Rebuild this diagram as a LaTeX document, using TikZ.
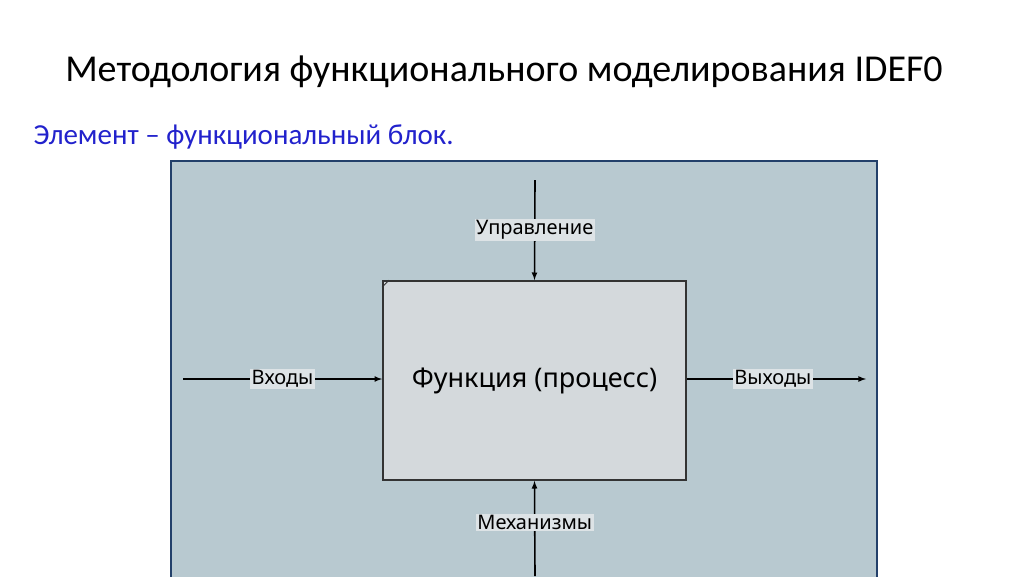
\documentclass[tikz,border=0pt]{standalone}
\usepackage{fontspec}
\setmainfont{Carlito}
\newfontfamily\diagfont{Noto Sans}
\usetikzlibrary{arrows}
\definecolor{panelfill}{HTML}{B8C9D0}
\definecolor{panelline}{HTML}{23406A}
\definecolor{boxfill}{HTML}{D4D9DC}
\definecolor{labelfill}{HTML}{DDE3E6}
\definecolor{subblue}{HTML}{2222CC}

\begin{document}
\begin{tikzpicture}[x=1pt,y=-1pt,>=latex]
  \tikzset{flowlabel/.style={fill=labelfill,inner sep=1.5pt,font=\diagfont\fontsize{20}{24}\selectfont}}
  \useasboundingbox (0,0) rectangle (1024,576);
  \node[font=\fontsize{38}{44}\selectfont] (title) at (504,72) {Методология функционального моделирования IDEF0};
  \node[anchor=west,text=subblue,font=\fontsize{29}{34}\selectfont] (subtitle) at (30,137) {Элемент – функциональный блок.};
  \draw[panelline,line width=2.5pt,fill=panelfill] (171,161) rectangle (877,582);
  \node[draw=black!80,line width=1.8pt,fill=boxfill,minimum width=303pt,minimum height=199pt,
        font=\diagfont\fontsize{27}{32}\selectfont] (func) at (534.5,380.5) {Функция (процесс)};
  \draw[black!80,line width=1pt] ([yshift=-7pt]func.north west) -- ([xshift=7pt]func.north west);
  \coordinate (ctrl) at (535,180);
  \coordinate (in) at (183,379);
  \coordinate (out) at (866,379);
  \coordinate (mech) at (535,576);
  \draw[->,line width=1.6pt] (ctrl) -- node[flowlabel,pos=0.5] {Управление} (func.north);
  \draw[->,line width=1.6pt] (in) -- node[flowlabel,pos=0.5] {Входы} (in -| func.west);
  \draw[->,line width=1.6pt] (out -| func.east) -- node[flowlabel,pos=0.48] {Выходы} (out);
  \draw[->,line width=1.6pt] (mech) -- node[flowlabel,pos=0.56] {Механизмы} (func.south);
\end{tikzpicture}
\end{document}
